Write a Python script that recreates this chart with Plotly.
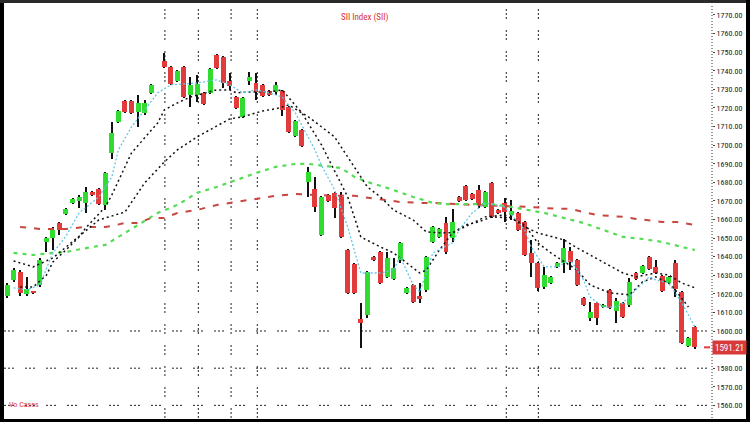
import plotly.graph_objects as go

# ---------------- data ----------------
opens = [1618.9, 1627.5, 1631.8, 1619.9, 1621.0, 1624.8, 1647.9, 1650.1, 1658.1, 1663.0,
         1668.9, 1670.0, 1668.9, 1674.8, 1676.4, 1667.8, 1695.8, 1712.5, 1723.8, 1723.8,
         1717.8, 1717.3, 1728.1, None, 1745.3, 1742.1, 1734.5, 1742.1, 1727.0, 1727.0,
         1728.1, 1728.1, 1748.5, 1747.4, 1734.5, 1725.9, 1715.2, 1734.5, 1733.4, 1732.4,
         1729.1, 1728.6, 1729.1, 1720.5, 1704.9, 1708.2, 1680.2, 1676.4, 1651.7, 1673.2,
         1674.3, 1672.1, 1643.6, 1636.1, 1606.5, 1608.6, 1639.8, 1642.5, 1629.1, 1628.0,
         1638.2, 1620.5, 1624.8, 1618.9, 1622.1, 1647.9, 1650.6, 1658.1, 1650.1, 1672.1,
         1678.0, 1673.7, 1675.9, 1666.7, 1679.6, 1665.1, 1668.9, 1662.4, 1663.5, 1658.7,
         1642.0, 1636.6, 1623.7, 1625.8, 1634.5, 1636.6, 1643.1, 1638.2, 1617.8, 1607.0,
         1615.1, 1612.9, 1622.1, 1610.8, 1615.1, 1614.0, 1631.2, 1631.2, 1639.8, 1634.5,
         1629.6, 1625.8, 1636.6, 1621.0, 1592.0, 1602.2]
highs = [1625.8, 1633.9, 1632.8, 1629.1, 1621.5, 1639.3, 1650.6, 1656.0, 1658.7, 1666.2,
         1671.6, 1673.2, 1677.5, 1675.3, 1677.0, 1685.6, 1712.5, 1718.9, 1724.3, 1724.3,
         1727.0, 1724.3, 1732.9, None, 1749.6, 1742.6, 1740.4, 1742.6, 1736.7, 1737.7,
         1728.6, 1741.5, 1749.0, 1748.0, 1738.8, 1726.5, 1725.9, 1739.4, 1738.8, 1732.9,
         1729.7, 1734.0, 1729.7, 1721.1, 1713.5, 1708.7, 1688.3, 1682.9, 1672.7, 1673.7,
         1674.8, 1674.8, 1644.1, 1636.6, 1615.1, 1632.3, 1640.4, 1643.1, 1642.5, 1639.3,
         1647.9, 1623.7, 1625.3, 1625.8, 1640.4, 1656.5, 1655.4, 1661.4, 1665.7, 1672.7,
         1678.6, 1674.3, 1678.6, 1675.3, 1680.2, 1665.7, 1671.6, 1670.5, 1664.0, 1659.2,
         1649.0, 1637.1, 1634.5, 1629.6, 1637.1, 1649.5, 1645.2, 1638.8, 1618.3, 1615.6,
         1615.6, 1614.5, 1622.6, 1617.8, 1615.6, 1628.5, 1631.8, 1635.5, 1640.4, 1638.2,
         1630.1, 1629.6, 1638.2, 1621.5, 1596.8, 1602.7]
lows = [1617.8, 1626.4, 1618.9, 1618.9, 1619.9, 1623.7, 1642.5, 1643.6, 1651.7, 1662.4,
        1668.3, 1666.2, 1663.5, 1672.7, 1667.8, 1665.1, 1692.6, 1711.9, 1717.3, 1716.8,
        1709.8, 1716.2, 1727.5, None, 1741.5, 1732.4, 1734.0, 1725.4, 1720.5, 1723.2,
        1721.6, 1727.5, 1741.0, 1730.8, 1729.7, 1719.5, 1714.6, 1732.4, 1724.3, 1725.9,
        1726.5, 1727.0, 1715.7, 1706.5, 1704.4, 1699.0, 1672.1, 1664.0, 1651.1, 1669.4,
        1660.8, 1650.1, 1619.9, 1619.9, 1590.9, 1607.0, 1637.7, 1625.3, 1628.5, 1627.5,
        1636.6, 1619.9, 1615.1, 1615.1, 1621.0, 1647.4, 1650.1, 1641.4, 1647.9, 1669.4,
        1670.0, 1670.5, 1666.2, 1666.2, 1660.8, 1663.0, 1658.7, 1659.7, 1653.8, 1640.4,
        1629.1, 1621.5, 1622.6, 1625.3, 1633.9, 1631.2, 1632.8, 1624.2, 1613.5, 1605.4,
        1603.2, 1612.4, 1611.9, 1604.3, 1607.0, 1612.9, 1627.5, 1630.7, 1632.8, 1630.7,
        1621.0, 1625.3, 1618.3, 1593.0, 1591.4, 1590.3]
closes = [1624.8, 1632.8, 1620.5, 1622.6, 1620.5, 1638.2, 1650.1, 1654.4, 1654.4, 1665.7,
          1671.0, 1672.1, 1674.8, 1673.2, 1668.3, 1685.0, 1706.5, 1718.4, 1717.8, 1717.3,
          1722.7, 1722.7, 1732.4, None, 1742.1, 1732.9, 1739.9, 1725.9, 1732.4, 1732.9,
          1722.1, 1741.0, 1741.5, 1733.4, 1731.8, 1720.0, 1725.4, 1736.7, 1728.6, 1726.5,
          1727.0, 1732.4, 1718.9, 1707.1, 1713.0, 1699.6, 1685.6, 1666.7, 1672.1, 1670.0,
          1666.2, 1650.6, 1620.5, 1620.5, 1604.3, 1631.8, 1638.2, 1625.8, 1639.3, 1633.9,
          1647.4, 1623.2, 1615.6, 1617.2, 1639.8, 1656.0, 1654.9, 1642.5, 1658.7, 1670.0,
          1670.5, 1671.0, 1667.8, 1674.8, 1661.4, 1663.5, 1664.0, 1664.6, 1654.4, 1640.9,
          1636.6, 1623.2, 1630.1, 1629.1, 1636.6, 1644.7, 1637.1, 1624.8, 1614.0, 1610.2,
          1607.0, 1614.0, 1612.4, 1616.2, 1607.6, 1626.4, 1628.0, 1635.0, 1633.4, 1631.2,
          1621.5, 1629.1, 1622.6, 1593.6, 1596.3, 1591.21]
bar_idx = list(range(len(opens)))

# moving-average lines, read at selected bars
ma_cyan_idx = [1, 3, 5, 7, 9, 11, 14, 16, 17, 19, 21, 23, 25, 29, 32, 34, 36, 38, 40, 42, 44, 47, 48,
               50, 52, 54, 56, 57, 59, 60, 62, 63, 65, 68, 69, 71, 73, 76, 79, 80, 82, 84, 86, 88, 89,
               91, 93, 94, 96, 98, 99, 101, 103, 105]
ma_cyan_val = [1623.2, 1622.1, 1624.8, 1642.0, 1651.0, 1663.5, 1672.1, 1682.9, 1697.4, 1709.8, 1718.9,
               1728.1, 1732.4, 1733.4, 1735.1, 1732.4, 1728.1, 1729.7, 1728.1, 1725.9, 1717.3, 1697.4,
               1689.0, 1676.0, 1655.9, 1631.2, 1631.2, 1631.2, 1632.8, 1639.8, 1624.8, 1621.0, 1642.0,
               1647.4, 1654.4, 1663.5, 1668.9, 1666.7, 1654.4, 1645.2, 1634.5, 1634.5, 1638.2, 1627.5,
               1618.3, 1612.9, 1612.9, 1615.1, 1622.1, 1629.1, 1627.5, 1625.8, 1615.1, 1602.2]
ma_fast_idx = [2, 4, 6, 7, 9, 11, 12, 15, 16, 18, 19, 23, 24, 26, 28, 32, 34, 35, 37, 40, 42, 45, 48,
               52, 53, 54, 57, 59, 61, 63, 64, 66, 68, 71, 73, 76, 79, 81, 83, 87, 89, 92, 95, 97, 99,
               101, 102, 104]
ma_fast_val = [1623.7, 1623.7, 1630.0, 1637.1, 1643.6, 1650.6, 1655.4, 1666.7, 1673.2, 1687.7, 1695.8,
               1711.9, 1718.9, 1722.7, 1725.9, 1729.7, 1729.7, 1728.1, 1728.6, 1728.6, 1729.7, 1717.3,
               1700.1, 1672.1, 1661.4, 1650.6, 1645.2, 1642.0, 1636.6, 1631.2, 1632.8, 1643.6, 1652.8,
               1658.1, 1661.4, 1662.4, 1657.1, 1647.4, 1642.0, 1632.8, 1624.8, 1620.5, 1619.4, 1626.4,
               1629.1, 1625.8, 1622.1, 1612.9]
ma_slow_idx = [1, 4, 7, 9, 14, 18, 21, 24, 26, 29, 34, 36, 39, 41, 43, 46, 48, 50, 51, 53, 55, 57, 59,
               62, 64, 66, 68, 70, 72, 74, 77, 79, 81, 85, 87, 89, 91, 94, 96, 99, 101, 103, 105]
ma_slow_val = [1637.7, 1634.5, 1639.3, 1645.2, 1659.7, 1664.0, 1679.6, 1690.9, 1697.4, 1704.4, 1714.1,
               1715.2, 1718.4, 1719.5, 1721.6, 1715.2, 1709.8, 1704.4, 1699.0, 1688.3, 1677.5, 1672.1,
               1665.1, 1659.7, 1653.3, 1652.8, 1652.8, 1657.1, 1658.7, 1661.4, 1660.8, 1656.0, 1652.8,
               1649.0, 1644.7, 1640.9, 1637.1, 1631.2, 1629.1, 1631.2, 1630.1, 1625.8, 1623.2]
ma_green_idx = [1, 4, 7, 9, 13, 15, 17, 20, 23, 26, 29, 32, 35, 38, 41, 44, 46, 49, 51, 53, 55, 58, 62,
                65, 67, 70, 74, 77, 82, 85, 88, 91, 94, 97, 100, 103, 105]
ma_green_val = [1642.0, 1640.9, 1642.0, 1642.5, 1645.2, 1646.3, 1650.6, 1657.1, 1663.5, 1667.8, 1674.3,
                1677.5, 1681.3, 1685.0, 1688.3, 1689.9, 1689.9, 1688.8, 1687.7, 1682.9, 1680.2, 1677.0,
                1672.1, 1668.9, 1668.3, 1668.3, 1668.3, 1666.7, 1663.5, 1660.8, 1658.1, 1654.4, 1650.6,
                1649.5, 1647.9, 1645.2, 1643.6]
ma_red_idx = [2, 5, 9, 12, 15, 16, 18, 20, 22, 24, 26, 29, 32, 35, 38, 41, 44, 47, 50, 53, 57, 60, 63,
              65, 70, 74, 77, 80, 84, 86, 88, 90, 94, 96, 100, 102, 105]
ma_red_val = [1656.0, 1654.9, 1654.9, 1656.0, 1656.0, 1656.5, 1658.1, 1658.1, 1660.8, 1660.8, 1663.5,
              1665.1, 1667.8, 1669.4, 1671.0, 1672.7, 1673.7, 1673.2, 1672.7, 1672.7, 1671.0, 1669.4,
              1668.9, 1668.9, 1668.0, 1667.5, 1667.3, 1666.7, 1665.7, 1665.7, 1664.0, 1662.4, 1661.4,
              1660.3, 1658.7, 1658.7, 1657.1]

tick_vals = [1560, 1570, 1580, 1590, 1600, 1610, 1620, 1630, 1640, 1650, 1660,
             1670, 1680, 1690, 1700, 1710, 1720, 1730, 1740, 1750, 1760, 1770]
grid_prices = [1560, 1580, 1600]
vgrid_bars = [24.1, 29.2, 34.2, 38.2, 76.2, 81.1]
title_text = "SII Index (SII)"
footer_text = "Vo Cases"

# ---------------- styling ----------------
UP = "#2fdc2f"
DOWN = "#e23b3b"
FONT = "Liberation Sans Narrow, Roboto Condensed, Liberation Sans, sans-serif"
W, H = 750, 422
ML, MR, MT, MB = 4, 38, 4, 4
PW, PH = W - ML - MR, H - MT - MB

last_close = closes[-1]
# the last-price box hides the tick label it sits on
tick_text = ["" if abs(v - last_close) < 5 else "%.2f" % v for v in tick_vals]


def px_x(p):
    return (p - ML) / PW


def px_y(p):
    return (H - MB - p) / PH


valid = [o is not None for o in opens]
body_base = [min(o, c) if v else None for o, c, v in zip(opens, closes, valid)]
body_len = [max(abs(c - o), 0.45) if v else None for o, c, v in zip(opens, closes, valid)]
body_col = [(UP if c >= o else DOWN) if v else UP for o, c, v in zip(opens, closes, valid)]
wick_len = [(h - l) if v else None for h, l, v in zip(highs, lows, valid)]

fig = go.Figure()
fig.add_trace(go.Bar(x=bar_idx, y=wick_len, base=lows, width=0.16,
                     marker=dict(color="#111111", line=dict(width=0)), hoverinfo="skip"))
fig.add_trace(go.Bar(x=bar_idx, y=body_len, base=body_base, width=0.76,
                     marker=dict(color=body_col, line=dict(width=0))))

fig.add_trace(go.Scatter(x=ma_red_idx, y=ma_red_val, mode="lines",
                         line=dict(color="#c8463f", width=2, dash="6px,8px")))
fig.add_trace(go.Scatter(x=ma_green_idx, y=ma_green_val, mode="lines",
                         line=dict(color="#55dc55", width=2.2, dash="4px,5px")))
fig.add_trace(go.Scatter(x=ma_slow_idx, y=ma_slow_val, mode="lines",
                         line=dict(color="#111111", width=1.5, dash="2px,3px")))
fig.add_trace(go.Scatter(x=ma_fast_idx, y=ma_fast_val, mode="lines",
                         line=dict(color="#111111", width=1.5, dash="2px,3px")))
fig.add_trace(go.Scatter(x=ma_cyan_idx, y=ma_cyan_val, mode="lines",
                         line=dict(color="#62c6e6", width=1.3, dash="2px,2px")))

shapes = []
dot = "2px,2px,2px,2px,2px,11px"
for g in grid_prices:
    shapes.append(dict(type="line", xref="paper", yref="y", x0=0, x1=1, y0=g, y1=g,
                       line=dict(color="#222222", width=1, dash=dot), layer="below"))
for v in vgrid_bars:
    shapes.append(dict(type="line", xref="x", yref="paper", x0=v, x1=v, y0=0, y1=1,
                       line=dict(color="#222222", width=1, dash=dot), layer="below"))
# right axis dotted line
shapes.append(dict(type="line", xref="paper", yref="paper", x0=1, x1=1, y0=0, y1=1,
                   line=dict(color="#333333", width=1, dash="1px,2px")))
# frame
shapes.append(dict(type="rect", xref="paper", yref="paper", x0=px_x(0), x1=px_x(4),
                   y0=px_y(H), y1=px_y(0), fillcolor="#000000", line=dict(width=0)))
shapes.append(dict(type="rect", xref="paper", yref="paper", x0=px_x(0), x1=px_x(W),
                   y0=px_y(3), y1=px_y(0), fillcolor="#2a2a2a", line=dict(width=0)))
shapes.append(dict(type="rect", xref="paper", yref="paper", x0=px_x(746), x1=px_x(W),
                   y0=px_y(H), y1=px_y(0), fillcolor="#000000", line=dict(width=0)))
shapes.append(dict(type="rect", xref="paper", yref="paper", x0=px_x(0), x1=px_x(W),
                   y0=px_y(H), y1=px_y(419), fillcolor="#000000", line=dict(width=0)))
# last value pointer
shapes.append(dict(type="line", xref="paper", yref="y", x0=px_x(704), x1=px_x(710),
                   y0=last_close, y1=last_close, line=dict(color=DOWN, width=2)))

annotations = [
    dict(text=title_text, xref="paper", yref="paper", x=px_x(365), y=px_y(10),
         showarrow=False, font=dict(family=FONT, size=9, color="#d83030")),
    dict(text=footer_text, xref="paper", yref="paper", x=px_x(7), y=px_y(411), xanchor="left",
         showarrow=False, font=dict(family=FONT, size=8, color="#d84040")),
    dict(text="%.2f" % last_close, xref="paper", yref="y", x=px_x(712), y=last_close,
         xanchor="left", showarrow=False, bgcolor="#d83a3a", borderpad=0,
         width=33, height=13, align="center",
         font=dict(family=FONT, size=9, color="#ffffff")),
]

fig.update_layout(
    width=W, height=H, margin=dict(l=ML, r=MR, t=MT, b=MB),
    paper_bgcolor="#ffffff", plot_bgcolor="#ffffff",
    barmode="overlay", bargap=0, showlegend=False,
    shapes=shapes, annotations=annotations,
    xaxis=dict(range=[-0.46, 107.6], visible=False, showgrid=False, zeroline=False),
    yaxis=dict(range=[1553.2, 1775.9], side="right", tickvals=tick_vals, ticktext=tick_text,
               showgrid=False, zeroline=False, ticks="outside", ticklen=2, tickcolor="#444444",
               tickfont=dict(family=FONT, size=8, color="#222222")),
)

fig.write_html("out.html")
